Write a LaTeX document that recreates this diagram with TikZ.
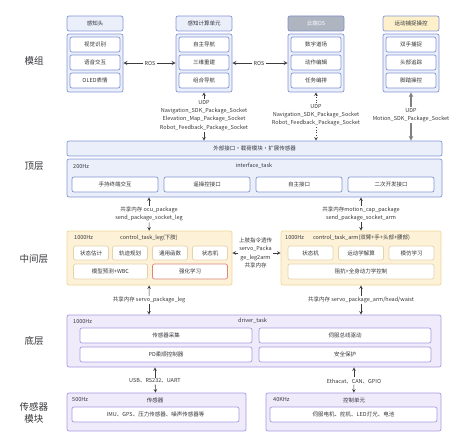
\documentclass[tikz,border=0pt]{standalone}
\usepackage{fontspec}
\setmainfont{Noto Sans CJK SC}

\definecolor{textgray}{RGB}{55,55,60}
\definecolor{linkgray}{RGB}{60,60,65}
\definecolor{bluedraw}{RGB}{130,150,214}
\definecolor{bluefill}{RGB}{234,239,250}
\definecolor{cloudfill}{RGB}{174,180,192}
\definecolor{capfill}{RGB}{253,240,202}
\definecolor{yellowdraw}{RGB}{240,214,152}
\definecolor{yellowfill}{RGB}{253,242,216}
\definecolor{tandraw}{RGB}{228,210,172}
\definecolor{rldraw}{RGB}{222,132,120}
\definecolor{purpledraw}{RGB}{168,154,224}
\definecolor{purplefill}{RGB}{239,235,251}

\tikzset{%
          every block/.style={
            draw,
            rounded corners=2pt,
            line width=0.7pt,
            inner sep=0pt,
            text=textgray,
            font=\fontsize{5.5}{6.6}\selectfont
          },
          module head/.style={every block, draw=bluedraw, fill=bluefill, minimum width=56pt, minimum height=15pt},
          module group/.style={every block, draw=bluedraw, fill=bluefill, minimum width=56pt, minimum height=58pt},
          module item/.style={every block, draw=bluedraw, fill=white, minimum width=50pt, minimum height=15pt},
          top frame/.style={every block, draw=bluedraw, fill=bluefill},
          top item/.style={every block, draw=bluedraw, fill=white, minimum width=86pt, minimum height=15pt},
          leg frame/.style={every block, draw=yellowdraw, fill=yellowfill},
          leg item/.style={every block, draw=tandraw, fill=white, minimum height=14pt},
          drive frame/.style={every block, draw=purpledraw, fill=purplefill},
          drive item/.style={every block, draw=purpledraw, fill=white, minimum height=15pt},
          note/.style={
            font=\fontsize{5.5}{8.3}\selectfont,
            text=textgray,
            align=center,
            inner sep=1pt
          },
          layer/.style={font=\fontsize{9.5}{12.5}\selectfont, text=textgray, align=center},
          link/.style={draw=linkgray, line width=0.6pt, ->},
        }

\begin{document}
\begin{tikzpicture}[x=1pt, y=-1pt, >=stealth]
        \useasboundingbox (0,0) rectangle (474,444);

        % layer names
        \node [layer] (layer-module) at (34,61) {模组};
        \node [layer] (layer-top) at (34,166) {顶层};
        \node [layer] (layer-middle) at (34,259) {中间层};
        \node [layer] (layer-bottom) at (34,341) {底层};
        \node [layer] (layer-sensor) at (34,413) {传感器\\模块};

        % modules
        \node [module head] (head-1) at (95,23.5) {感知头};
        \node [module group] (group-1) at (95,63) {};
        \node [module item] (item-1-1) at (95,44.5) {视觉识别};
        \node [module item] (item-1-2) at (95,62.5) {语音交互};
        \node [module item] (item-1-3) at (95,80.5) {OLED表情};

        \node [module head] (head-2) at (204,23.5) {感知计算单元};
        \node [module group] (group-2) at (204,63) {};
        \node [module item] (item-2-1) at (204,44.5) {自主导航};
        \node [module item] (item-2-2) at (204,62.5) {三维重建};
        \node [module item] (item-2-3) at (204,80.5) {组合导航};

        \node [module head, draw=bluedraw!80!gray, fill=cloudfill, text=white] (head-3) at (316,23.5) {云端OS};
        \node [module group] (group-3) at (316,63) {};
        \node [module item] (item-3-1) at (316,44.5) {数字道场};
        \node [module item] (item-3-2) at (316,62.5) {动作编辑};
        \node [module item] (item-3-3) at (316,80.5) {任务编排};

        \node [module head, fill=capfill] (head-4) at (411,23.5) {运动捕捉操控};
        \node [module group] (group-4) at (411,63) {};
        \node [module item] (item-4-1) at (411,44.5) {双手捕捉};
        \node [module item] (item-4-2) at (411,62.5) {头部追踪};
        \node [module item] (item-4-3) at (411,80.5) {脚踏操控};

        \node [note] (ros-1) at (150,63) {ROS};
        \node [note] (ros-2) at (259,63) {ROS};
        \path [link, line width=0.8pt] (ros-1) -- (group-1);
        \path [link, line width=0.8pt] (ros-1) -- (group-2);
        \path [link, line width=0.8pt] (ros-2) -- (group-2);
        \path [link, line width=0.8pt] (ros-2) -- (group-3);

        % top layer
        \node [top frame, minimum width=375pt, minimum height=15pt] (ext) at (254.5,148.5) {外部接口·载荷模块·扩展传感器};
        \node [top frame, minimum width=375pt, minimum height=38pt] (interface) at (254.5,178) {};
        \node [note, anchor=west] (interface-hz) at (72,167) {200Hz};
        \node [note] (interface-name) at (254,166) {interface\_task};
        \node [top item] (top-1) at (115,184.5) {手持终端交互};
        \node [top item] (top-2) at (207,184.5) {遥操控接口};
        \node [top item] (top-3) at (299,184.5) {自主接口};
        \node [top item] (top-4) at (391,184.5) {二次开发接口};

        \node [note] (udp-2) at (204,115.5) {UDP\\Navigation\_SDK\_Package\_Socket\\Elevation\_Map\_Package\_Socket\\Robot\_Feedback\_Package\_Socket};
        \node [note] (udp-3) at (316,115) {UDP\\Navigation\_SDK\_Package\_Socket\\Robot\_Feedback\_Package\_Socket};
        \node [note] (udp-4) at (411,115) {UDP\\Motion\_SDK\_Package\_Socket};
        \path [link] (udp-2) -- (group-2);
        \path [link] (udp-2) -- (ext.north -| udp-2);
        \path [link, dotted] (udp-3) -- (group-3);
        \path [link, dotted] (udp-3) -- (ext.north -| udp-3);
        \path [link, draw=gray, line width=1.1pt] (udp-4) -- (group-4);
        \path [link, draw=gray, line width=1.1pt] (udp-4) -- (ext.north -| udp-4);

        % middle layer
        \node [leg frame, minimum width=165pt, minimum height=54pt] (leg) at (149.5,258) {};
        \node [note, anchor=west] (leg-hz) at (73,238) {1000Hz};
        \node [note] (leg-name) at (149,238) {control\_task\_leg(下肢)};
        \node [leg item, minimum width=35pt] (leg-1) at (91,253) {状态估计};
        \node [leg item, minimum width=35pt] (leg-2) at (130,253) {轨迹规划};
        \node [leg item, minimum width=35pt] (leg-3) at (170,253) {通用函数};
        \node [leg item, minimum width=35pt] (leg-4) at (210,253) {状态机};
        \node [leg item, minimum width=74pt, minimum height=15pt] (leg-5) at (110.5,271.5) {模型预测+WBC};
        \node [leg item, draw=rldraw, minimum width=75pt, minimum height=15pt] (leg-6) at (190,271.5) {强化学习};

        \node [leg frame, minimum width=160pt, minimum height=54pt] (arm) at (361,258) {};
        \node [note, anchor=west] (arm-hz) at (284,238) {1000Hz};
        \node [note] (arm-name) at (361.5,238) {control\_task\_arm(双臂+手+头部+腰部)};
        \node [leg item, minimum width=45pt] (arm-1) at (310.5,253) {状态机};
        \node [leg item, minimum width=45pt] (arm-2) at (361,253) {运动学解算};
        \node [leg item, minimum width=45pt] (arm-3) at (411.5,253) {模仿学习};
        \node [leg item, minimum width=146pt, minimum height=15pt] (arm-4) at (361,271.5) {阻抗+全身动力学控制};

        \node [note, font=\fontsize{5.5}{8.5}\selectfont] (relay) at (255.5,253) {上肢指令透传\\servo\_Packa\\ge\_leg2arm\\共享内存};
        \path [link] (relay.west) -- (relay.west -| leg.east);
        \path [link] (relay.east) -- (relay.east -| arm.west);

        \node [note] (shm-leg) at (149,214) {共享内存 ocu\_package\\send\_package\_socket\_leg};
        \node [note] (shm-arm) at (361,214) {共享内存motion\_cap\_package\\send\_package\_socket\_arm};
        \path [link] (shm-leg) -- (interface.south -| shm-leg);
        \path [link] (shm-leg) -- (leg);
        \path [link] (shm-arm) -- (interface.south -| shm-arm);
        \path [link] (shm-arm) -- (arm);

        % bottom layer
        \node [drive frame, minimum width=374pt, minimum height=52pt] (driver) at (254,341) {};
        \node [note, anchor=west] (driver-hz) at (72,322) {1000Hz};
        \node [note, anchor=west] (driver-name) at (237,321) {driver\_task};
        \node [drive item, minimum width=172pt] (drv-1) at (166,335.5) {传感器采集};
        \node [drive item, minimum width=172pt] (drv-2) at (166,354.5) {PD柔顺控制器};
        \node [drive item, minimum width=172pt] (drv-3) at (345,335.5) {伺服总线驱动};
        \node [drive item, minimum width=172pt] (drv-4) at (345,354.5) {安全保护};

        \node [note] (servo-leg) at (149,300) {共享内存 servo\_package\_leg};
        \node [note] (servo-arm) at (361,300) {共享内存 servo\_package\_arm/head/waist};
        \path [link] (servo-leg) -- (leg);
        \path [link] (servo-leg) -- (driver.north -| servo-leg);
        \path [link] (servo-arm) -- (arm);
        \path [link] (servo-arm) -- (driver.north -| servo-arm);

        % sensor modules
        \node [drive frame, minimum width=179pt, minimum height=38pt] (sensor) at (156.5,412) {};
        \node [note, anchor=west] (sensor-hz) at (71,400) {500Hz};
        \node [note] (sensor-name) at (155,400) {传感器};
        \node [drive item, minimum width=167pt] (sensor-item) at (155.5,414.5) {IMU、GPS、压力传感器、噪声传感器等};

        \node [drive frame, minimum width=175pt, minimum height=38pt] (unit) at (353.5,412) {};
        \node [note, anchor=west] (unit-hz) at (272,400) {40KHz};
        \node [note] (unit-name) at (354,400) {控制单元};
        \node [drive item, minimum width=167pt] (unit-item) at (353.5,414.5) {伺服电机、舵机、LED灯光、电池};

        \node [note] (bus-1) at (155,381) {USB、RS232、UART};
        \node [note] (bus-2) at (354,381) {Ethacat、CAN、GPIO};
        \path [link] (bus-1) -- (driver.south -| bus-1);
        \path [link] (bus-1) -- (sensor);
        \path [link] (bus-2) -- (driver.south -| bus-2);
        \path [link] (bus-2) -- (unit);

        \end{tikzpicture}
\end{document}
